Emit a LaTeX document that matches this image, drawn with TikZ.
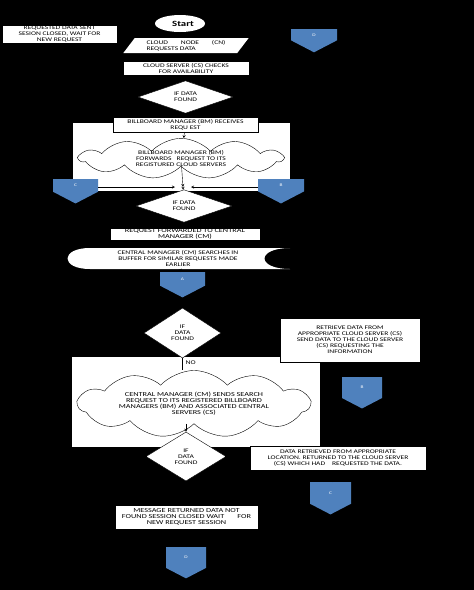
\documentclass[tikz,border=0pt]{standalone}
\usepackage{fontspec}
\setmainfont{Carlito}[FakeStretch=1.35]
\usetikzlibrary{shapes.geometric, shapes.symbols}
\definecolor{conblue}{RGB}{79,129,189}

\begin{document}
\begin{tikzpicture}[x=1pt, y=-1pt, >=stealth,
    every node/.style={font=\fontsize{5.6}{6}\selectfont, align=center, inner sep=0pt},
    box/.style={rectangle, draw=black, fill=white},
    test/.style={diamond, draw=black, fill=white},
    bubble/.style={cloud, cloud puffs=11, cloud puff arc=95, aspect=5, draw=black, fill=white},
    offpage/.style={signal, signal to=south, signal from=nowhere, signal pointer angle=125,
        fill=conblue, text=white, font=\fontsize{4}{4}\selectfont},
    flow/.style={draw=black, ->}]
        \useasboundingbox (0,0) rectangle (474,590);
        \fill[black] (0,0) rectangle (474,590);
        % white panels behind the two clouds
        \fill[white] (73,123) rectangle (290,191);
        \fill[white] (72,357) rectangle (320,447);
        % stored data banner
        \fill[white] (90,248) -- (290,248) .. controls (256,248) and (256,269) .. (290,269)
            -- (90,269) .. controls (60,269) and (60,248) .. (90,248) -- cycle;

        \node[box, minimum width=115, minimum height=18] (reqsent) at (59.5,34)
            {REQUESTED DATA SENT\\SESION CLOSED, WAIT FOR\\NEW REQUEST};
        \node[ellipse, fill=white, minimum width=50, minimum height=17,
            font=\fontsize{8}{8}\selectfont\bfseries] (start) at (180,23.5) {\kern6pt Start};
        \node[trapezium, trapezium left angle=51, trapezium right angle=129, trapezium stretches=true,
            fill=white, minimum width=126, minimum height=15] (cn) at (186,45.5)
            {\parbox{79pt}{CLOUD\hfill NODE\hfill (CN)\\REQUESTS DATA}};
        \node[box, minimum width=126, minimum height=14] (cs) at (186,68)
            {CLOUD SERVER (CS) CHECKS\\FOR AVAILABILITY};
        \node[test, minimum width=95, minimum height=28] (found-1) at (185.5,97) {IF DATA\\FOUND};
        \node[box, minimum width=145, minimum height=15] (bm) at (185.5,124.5)
            {BILLBOARD MANAGER (BM) RECEIVES\\REQU EST};
        \node[bubble, minimum width=203, minimum height=38] (cloud1) at (181,158.5)
            {BILLBOARD MANAGER (BM)\\FORWARDS\ \ \ REQUEST TO ITS\\REGISTURED CLOUD SERVERS};
        \coordinate (join) at (183,187);
        \node[test, minimum width=96, minimum height=27] (found-2) at (184,206) {IF DATA\\FOUND};
        \node[box, minimum width=150, minimum height=12, font=\fontsize{6.1}{6}\selectfont] (cmfwd) at (185,234)
            {REQUEST FORWARDED TO CENTRAL\\MANAGER (CM)};
        \node[minimum height=21] (search) at (178,258.5)
            {CENTRAL MANAGER (CM) SEARCHES IN\\BUFFER FOR SIMILAR REQUESTS MADE\\EARLIER};
        \node[test, minimum width=77, minimum height=50] (found-3) at (182.5,333) {IF\\DATA\\FOUND};
        \node[box, minimum width=140, minimum height=44] (retrieve) at (350,340)
            {RETRIEVE DATA FROM\\APPROPRIATE CLOUD SERVER (CS)\\SEND DATA TO THE CLOUD SERVER\\(CS) REQUESTING THE\\INFORMATION};
        \node[bubble, minimum width=232, minimum height=44, font=\fontsize{6.1}{6}\selectfont] (cloud2) at (194,404)
            {CENTRAL MANAGER (CM) SENDS SEARCH\\REQUEST TO ITS REGISTERED BILLBOARD\\MANAGERS (BM) AND ASSOCIATED CENTRAL\\SERVERS (CS)};
        \node[test, minimum width=80, minimum height=49] (found-4) at (186,456.5) {IF\\DATA\\FOUND};
        \node[box, minimum width=176, minimum height=24] (retrieved) at (338,458)
            {DATA RETRIEVED FROM APPROPRIATE\\LOCATION. RETURNED TO THE CLOUD SERVER\\(CS) WHICH HAD\ \ \ \ REQUESTED THE DATA.};
        \node[box, minimum width=143, minimum height=24, font=\fontsize{6.1}{6}\selectfont] (notfound) at (186.5,517)
            {MESSAGE RETURNED DATA NOT\\FOUND SESSION CLOSED WAIT\ \ \ \ \ \ \ FOR\\NEW REQUEST SESSION};

        % off-page connectors (height of the flat part, the point comes below it)
        \foreach \nm/\lb/\x/\y/\w/\h in {D-1/D/314/29/46/12, C-1/C/75.5/179/45/13.3, B-1/B/281/179/46/13,
                A-1/A/182.5/272/45/14.3, B-2/B/362/377/40/21.6, C-2/C/330.5/482/41/22.3, D-2/D/186/547/40/21.6} {
            \node[offpage, minimum width=\w, minimum height=\h, anchor=north] (\nm) at (\x,\y) {\lb};
        }

        \draw[flow] (start) -- (cn);
        \draw[flow] (cn) -- (cs);
        \draw[flow] (cs) -- (found-1);
        \draw[flow] (found-1) -- (bm);
        \draw[flow] (bm) -- (cloud1);
        \draw[flow] (cloud1) -- (join);
        \draw[flow, shorten >=8pt] (C-1.east |- join) -- (join);
        \draw[flow, shorten >=8pt] (B-1.west |- join) -- (join);
        \draw[flow] (join) -- (found-2);
        \draw[flow] (found-2) -- (cmfwd);
        \draw[flow] (cmfwd) -- (search);
        \draw[flow] (search) -- (A-1);
        \draw[flow] (A-1) -- (found-3);
        \draw (found-3.south) -- node[right=3pt, pos=0.4, font=\fontsize{5.7}{6}\selectfont] {NO} (found-3.south |- cloud2.north);
        \draw[flow] (found-3) -- (retrieve);
        \draw[flow] (retrieve) -- (B-2);
        \draw[flow] (found-4.north |- cloud2.south) -- (found-4);
        \draw[flow] (found-4) -- (retrieved);
        \draw[flow] (retrieved) -- (C-2);
        \draw[flow] (found-4) -- (notfound);
        \draw[flow] (notfound) -- (D-2);
    \end{tikzpicture}
\end{document}
